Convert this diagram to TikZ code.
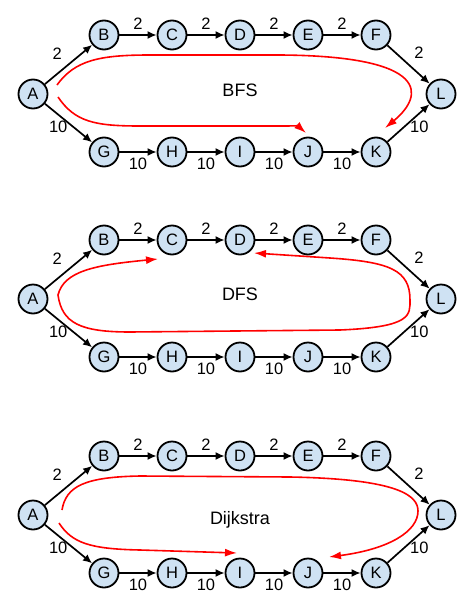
\documentclass[tikz,border=0pt]{standalone}
\usepackage{fontspec}
\setmainfont{Liberation Sans}
\usetikzlibrary{arrows.meta, positioning}
\definecolor{nodeblue}{RGB}{207,226,243}

\begin{document}
\begin{tikzpicture}[x=1pt, y=-1pt, node distance=68pt, on grid, every node/.style={font=\fontsize{16.5}{19}\selectfont}]
\tikzstyle{vertex} = [circle, draw=black, line width=1.8pt, fill=nodeblue, minimum size=29pt, inner sep=0pt]
\tikzstyle{edge} = [line width=1.7pt, -{Latex[length=9pt,width=8pt]}]
\tikzstyle{weight} = [inner sep=5pt]
\tikzstyle{walk} = [draw=red, line width=1.6pt, -{Latex[length=12pt,width=8pt]}]
\tikzstyle{title} = [anchor=base, font=\fontsize{18}{21}\selectfont]

\useasboundingbox (0,0) rectangle (474,608);

% same graph three times, one per search
\foreach \p/\dy/\name/\ty in {1/0/BFS/96.5, 2/205/DFS/95, 3/421/Dijkstra/103}{
\begin{scope}[shift={(0,\dy)}]
% upper row
\node (A\p) [vertex] at (33,94) {A};
\node (B\p) [vertex, above right=59pt and 71pt of A\p] {B};
\node (C\p) [vertex, right=of B\p] {C};
\node (D\p) [vertex, right=of C\p] {D};
\node (E\p) [vertex, right=of D\p] {E};
\node (F\p) [vertex, right=of E\p] {F};
% lower row
\node (G\p) [vertex, below right=58pt and 71pt of A\p] {G};
\node (H\p) [vertex, right=of G\p] {H};
\node (I\p) [vertex, right=of H\p] {I};
\node (J\p) [vertex, right=of I\p] {J};
\node (K\p) [vertex, right=of J\p] {K};
\node (L\p) [vertex, below right=59pt and 65pt of F\p] {L};

\node (title\p) [title] at (240,\ty) {\name};

% weighted edges
\draw [edge] (A\p) -- node[weight, above left, pos=0.48] (wAB\p) {2} (B\p);
\foreach \u/\v in {B/C, C/D, D/E, E/F}
  \draw [edge] (\u\p) -- node[weight, above] (w\u\v\p) {2} (\v\p);
\draw [edge] (F\p) -- node[weight, above right] (wFL\p) {2} (L\p);
\draw [edge] (A\p) -- node[weight, left, pos=0.6] (wAG\p) {10} (G\p);
\foreach \u/\v in {G/H, H/I, I/J, J/K}
  \draw [edge] (\u\p) -- node[weight, below] (w\u\v\p) {10} (\v\p);
\draw [edge] (K\p) -- node[weight, right, pos=0.4] (wKL\p) {10} (L\p);
\end{scope}
}

% BFS order
\coordinate (bfsS1) at (57,85);
\coordinate (bfsT1) at (385,128);
\coordinate (bfsS2) at (58,97);
\coordinate (bfsT2) at (306,133);
\draw [walk] (bfsS1) .. controls (75,60) and (100,55) .. (150,55) -- (280,55) .. controls (430,56) and (425,95) .. (bfsT1);
\draw [walk] (bfsS2) .. controls (75,122) and (95,126) .. (140,126) -- (250,126) .. controls (290,126) and (298,126) .. (bfsT2);

% DFS order
\begin{scope}[shift={(0,205)}]
\coordinate (dfsS) at (58,90);
\coordinate (dfsC) at (158,54);
\coordinate (dfsD) at (254,48);
\draw [walk] (dfsS) .. controls (64,66) and (95,60) .. (dfsC);
\draw [walk] (dfsS) .. controls (62,118) and (80,127) .. (130,127) -- (340,125) .. controls (412,122) and (410,110) .. (410,95) .. controls (410,65) and (390,57) .. (330,53) -- (dfsD);
\end{scope}

% Dijkstra order
\begin{scope}[shift={(0,421)}]
\coordinate (dijS1) at (62,89);
\coordinate (dijT1) at (329,136);
\coordinate (dijS2) at (59,102);
\coordinate (dijT2) at (237,132);
\draw [walk] (dijS1) .. controls (66,65) and (85,56) .. (140,55) -- (290,56) .. controls (400,58) and (418,75) .. (418,90) .. controls (418,110) and (390,128) .. (dijT1);
\draw [walk] (dijS2) .. controls (72,122) and (90,128) .. (140,129) -- (dijT2);
\end{scope}

\end{tikzpicture}
\end{document}
